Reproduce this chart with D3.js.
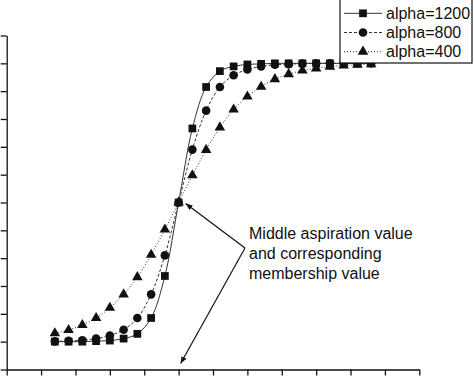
<!DOCTYPE html>
<html>
<head>
<meta charset="utf-8">
<script src="https://cdn.jsdelivr.net/npm/d3@7"></script>
<style>
  body { margin: 0; background: #fff; }
  svg { display: block; font-family: "Liberation Sans", Arial, sans-serif; }
</style>
</head>
<body>
<script>
// aspiration values (x, in tick units) and membership values per alpha
var xVals = [1.4, 1.8, 2.2, 2.6, 3.0, 3.4, 3.8, 4.2, 4.6, 5.0, 5.4, 5.8,
             6.2, 6.6, 7.0, 7.4, 7.8, 8.2, 8.6, 9.0, 9.4, 9.8, 10.2, 10.6];
var alpha1200 = [0.0, 0.0, 0.0, 0.002, 0.004, 0.011, 0.028, 0.085, 0.236, 0.5, 0.766, 0.915,
                 0.972, 0.989, 0.996, 0.998, 1.0, 1.0, 1.0, 1.0, 1.0, 1.0, 1.0, 1.0];
var alpha800 = [0.001, 0.003, 0.005, 0.011, 0.022, 0.043, 0.085, 0.17, 0.31, 0.5, 0.69, 0.83,
                0.915, 0.957, 0.978, 0.989, 0.995, 0.997, 0.999, 1.0, 1.0, 1.0, 1.0, 1.0];
var alpha400 = [0.03, 0.042, 0.06, 0.085, 0.122, 0.17, 0.232, 0.312, 0.403, 0.5, 0.598, 0.689,
                0.77, 0.834, 0.881, 0.916, 0.943, 0.961, 0.974, 0.982, 0.988, 0.992, 0.995, 0.997];
var seriesNames = ['alpha=1200', 'alpha=800', 'alpha=400'];
var xTicks = [0, 1, 2, 3, 4, 5, 6, 7, 8, 9, 10, 11, 12];
var yTicks = [-0.1, 0, 0.1, 0.2, 0.3, 0.4, 0.5, 0.6, 0.7, 0.8, 0.9, 1.0, 1.1];
var annotation = ['Middle aspiration value', 'and corresponding', 'membership value'];
var middlePoint = {x: 5.0, y: 0.5};

var screen = {width: 474, height: 376};

var svg = d3.select('body').append('svg')
            .attr('width', screen.width)
            .attr('height', screen.height);

var xScale = d3.scaleLinear().domain([0, 12]).range([6.7, 419.3]);
var yScale = d3.scaleLinear().domain([-0.1, 1.1]).range([369.5, 35.5]);

// axes (no tick labels in the original)
svg.append('g')
   .attr('transform', 'translate(0,' + yScale(-0.1) + ')')
   .call(d3.axisBottom(xScale).tickValues(xTicks).tickFormat('').tickSize(6).tickSizeOuter(0))
   .call(function(g){ g.selectAll('path, line').attr('stroke', '#111').attr('stroke-width', 1.3); });

svg.append('g')
   .attr('transform', 'translate(' + xScale(0) + ',0)')
   .call(d3.axisLeft(yScale).tickValues(yTicks).tickFormat('').tickSize(6).tickSizeOuter(0))
   .call(function(g){ g.selectAll('path, line').attr('stroke', '#111').attr('stroke-width', 1.3); });

var series = [
  {name: seriesNames[0], values: alpha1200, dash: null, symbol: d3.symbolSquare, size: 60},
  {name: seriesNames[1], values: alpha800, dash: '3,2', symbol: d3.symbolCircle, size: 58},
  {name: seriesNames[2], values: alpha400, dash: '1,2', symbol: d3.symbolTriangle, size: 48}
];

var line = d3.line()
             .x(function(d){ return xScale(d[0]); })
             .y(function(d){ return yScale(d[1]); })
             .curve(d3.curveCatmullRom);

var plot = svg.append('g').classed('plot', true);

series.forEach(function(s){
  var pts = xVals.map(function(x, i){ return [x, s.values[i]]; });
  plot.append('path')
      .attr('d', line(pts))
      .attr('fill', 'none')
      .attr('stroke', '#333')
      .attr('stroke-width', 1)
      .attr('stroke-dasharray', s.dash);
});

series.forEach(function(s){
  var pts = xVals.map(function(x, i){ return [x, s.values[i]]; });
  plot.selectAll(null)
      .data(pts)
      .enter()
      .append('path')
      .attr('d', d3.symbol().type(s.symbol).size(s.size))
      .attr('transform', function(d){ return 'translate(' + xScale(d[0]) + ',' + yScale(d[1]) + ')'; })
      .attr('fill', '#111');
});

// legend
var legend = svg.append('g');
legend.append('rect')
      .attr('x', 340).attr('y', -2)
      .attr('width', 132).attr('height', 65)
      .attr('fill', '#fff')
      .attr('stroke', '#111')
      .attr('stroke-width', 1.2);

series.forEach(function(s, i){
  var cy = 13.3 + i * 19.2;
  legend.append('line')
        .attr('x1', 344).attr('x2', 382)
        .attr('y1', cy).attr('y2', cy)
        .attr('stroke', '#333')
        .attr('stroke-width', 1)
        .attr('stroke-dasharray', s.dash);
  legend.append('path')
        .attr('d', d3.symbol().type(s.symbol).size(s.size)())
        .attr('transform', 'translate(363,' + cy + ')')
        .attr('fill', '#111');
  legend.append('text')
        .attr('x', 386).attr('y', cy + 5.5)
        .attr('font-size', 16)
        .attr('fill', '#111')
        .text(s.name);
});

// annotation
var defs = svg.append('defs');
defs.append('marker')
    .attr('id', 'arrow')
    .attr('viewBox', '0 0 10 10')
    .attr('refX', 10).attr('refY', 5)
    .attr('markerWidth', 7).attr('markerHeight', 7)
    .attr('markerUnits', 'userSpaceOnUse')
    .attr('orient', 'auto')
    .append('path')
    .attr('d', 'M0,1 L10,5 L0,9 Z')
    .attr('fill', '#111');

var origin = {x: 245, y: 248};
svg.append('line')
   .attr('x1', origin.x).attr('y1', origin.y)
   .attr('x2', xScale(middlePoint.x) + 7).attr('y2', yScale(middlePoint.y) + 1)
   .attr('stroke', '#111').attr('stroke-width', 1.2)
   .attr('marker-end', 'url(#arrow)');
svg.append('line')
   .attr('x1', origin.x).attr('y1', origin.y)
   .attr('x2', xScale(middlePoint.x) + 2).attr('y2', yScale(-0.1) - 6)
   .attr('stroke', '#111').attr('stroke-width', 1.2)
   .attr('marker-end', 'url(#arrow)');

svg.append('text')
   .attr('x', 249).attr('y', 239)
   .attr('font-size', 16)
   .attr('fill', '#111')
   .selectAll('tspan')
   .data(annotation)
   .enter()
   .append('tspan')
   .attr('x', 249)
   .attr('dy', function(d, i){ return i === 0 ? 0 : 20; })
   .text(function(d){ return d; });
</script>
</body>
</html>
